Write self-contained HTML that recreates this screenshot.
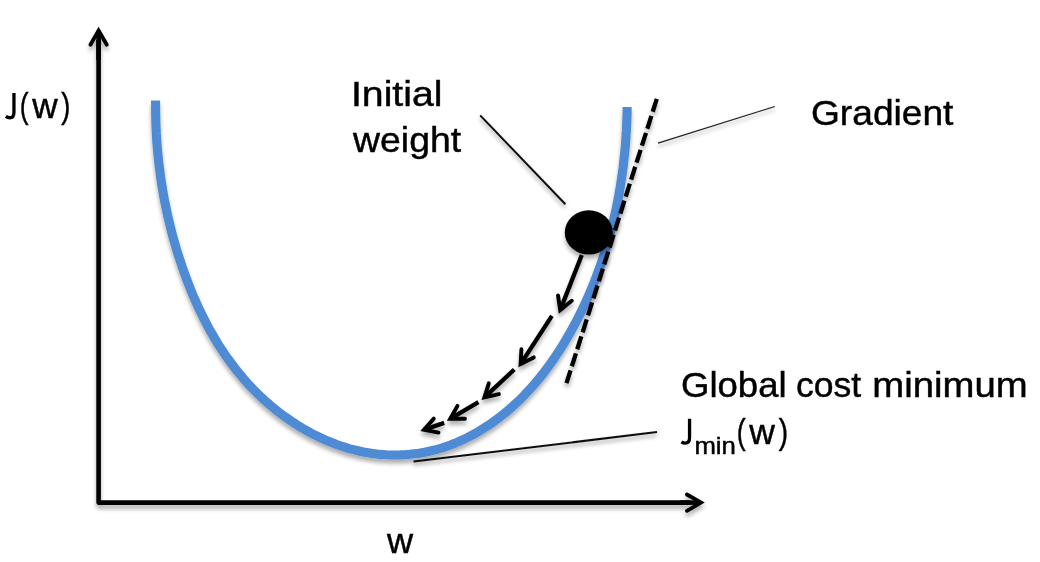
<!DOCTYPE html>
<html><head><meta charset="utf-8"><title>Gradient descent</title>
<style>
html,body{margin:0;padding:0;background:#fff;}
body{width:1040px;height:562px;overflow:hidden;font-family:"Liberation Sans",sans-serif;}
svg{display:block;}
</style></head><body>
<svg width="1040" height="562" viewBox="0 0 1040 562">
<defs>
<filter id="sh" x="-20%" y="-20%" width="140%" height="140%">
<feGaussianBlur in="SourceAlpha" stdDeviation="2.2" result="b"/>
<feOffset in="b" dx="0" dy="3.5" result="o"/>
<feComponentTransfer in="o" result="s"><feFuncA type="linear" slope="0.32"/></feComponentTransfer>
<feMerge><feMergeNode in="s"/><feMergeNode in="SourceGraphic"/></feMerge>
</filter>
<filter id="sh2" x="-20%" y="-20%" width="140%" height="140%" filterUnits="userSpaceOnUse">
<feGaussianBlur in="SourceAlpha" stdDeviation="2.0" result="b"/>
<feOffset in="b" dx="0" dy="3" result="o"/>
<feComponentTransfer in="o" result="s"><feFuncA type="linear" slope="0.4"/></feComponentTransfer>
<feMerge><feMergeNode in="s"/><feMergeNode in="SourceGraphic"/></feMerge>
</filter>
<filter id="soft" x="0" y="0" width="1040" height="562" filterUnits="userSpaceOnUse"><feGaussianBlur stdDeviation="0.55"/></filter>
</defs>
<rect width="1040" height="562" fill="#fff"/>
<g filter="url(#soft)">
<g filter="url(#sh)">
<polyline points="98.6,40 98.6,502.6 690,502.6" fill="none" stroke="#000" stroke-width="4.6" stroke-linejoin="round"/>
<line x1="98.6" y1="60.0" x2="98.6" y2="30.6" stroke="#000" stroke-width="4.60"/><polyline points="90.4,44.7 98.6,30.6 106.8,44.7" fill="none" stroke="#000" stroke-width="3.80" stroke-linecap="round" stroke-linejoin="miter" stroke-miterlimit="10"/>
<line x1="680.0" y1="502.6" x2="701.0" y2="502.6" stroke="#000" stroke-width="4.60"/><polyline points="686.9,494.5 701.0,502.6 686.9,510.8" fill="none" stroke="#000" stroke-width="3.80" stroke-linecap="round" stroke-linejoin="miter" stroke-miterlimit="10"/>
</g>
<path d="M155.6,100.6 L155.6,105.3 L155.6,110.0 L155.7,114.7 L155.8,119.4 L155.9,124.1 L156.1,128.8 L156.3,133.5 L156.6,138.1 L156.9,142.8 L157.3,147.5 L157.7,152.1 L158.2,156.8 L158.6,161.4 L159.2,166.1 L159.8,170.7 L160.4,175.3 L161.0,180.0 L161.8,184.6 L162.5,189.2 L163.3,193.8 L164.1,198.4 L165.0,203.0 L166.0,207.5 L166.9,212.1 L167.9,216.7 L169.0,221.2 L170.1,225.8 L171.2,230.3 L172.4,234.8 L173.6,239.3 L174.9,243.8 L176.2,248.3 L177.6,252.8 L179.0,257.3 L180.5,261.7 L181.9,266.2 L183.5,270.6 L185.1,275.0 L186.7,279.4 L188.4,283.8 L190.1,288.2 L191.9,292.6 L193.7,296.9 L195.6,301.2 L197.5,305.5 L199.5,309.7 L201.5,313.9 L203.6,318.1 L205.7,322.3 L207.9,326.5 L210.1,330.6 L212.5,334.6 L214.8,338.7 L217.2,342.7 L219.7,346.6 L222.3,350.5 L224.9,354.4 L227.5,358.2 L230.3,362.0 L233.1,365.8 L235.9,369.5 L238.9,373.1 L241.9,376.7 L244.9,380.3 L248.0,383.8 L251.2,387.2 L254.5,390.6 L257.8,393.9 L261.2,397.2 L264.7,400.4 L268.3,403.5 L271.9,406.6 L275.5,409.6 L279.2,412.5 L283.0,415.4 L286.9,418.1 L290.7,420.8 L294.7,423.4 L298.7,426.0 L302.7,428.4 L306.8,430.7 L310.9,433.0 L315.1,435.2 L319.3,437.2 L323.6,439.2 L327.9,441.1 L332.2,442.8 L336.6,444.5 L341.0,446.0 L345.4,447.4 L349.9,448.8 L354.4,449.9 L358.9,451.0 L363.4,452.0 L368.0,452.8 L372.6,453.5 L377.2,454.1 L381.8,454.5 L386.4,454.8 L391.1,455.0 L395.7,455.0 L400.4,454.9 L405.0,454.7 L409.7,454.3 L414.3,453.8 L418.9,453.2 L423.5,452.4 L428.1,451.5 L432.7,450.4 L437.2,449.3 L441.7,448.0 L446.1,446.5 L450.5,445.0 L454.8,443.3 L459.1,441.4 L463.4,439.5 L467.6,437.5 L471.7,435.3 L475.9,433.1 L479.9,430.7 L483.9,428.2 L487.8,425.7 L491.7,423.0 L495.5,420.3 L499.3,417.5 L503.0,414.5 L506.7,411.6 L510.2,408.5 L513.7,405.4 L517.2,402.2 L520.6,398.9 L523.9,395.6 L527.1,392.2 L530.3,388.7 L533.4,385.2 L536.5,381.7 L539.4,378.1 L542.4,374.4 L545.2,370.7 L548.0,367.0 L550.8,363.2 L553.5,359.3 L556.1,355.5 L558.7,351.6 L561.2,347.6 L563.7,343.6 L566.1,339.6 L568.4,335.6 L570.8,331.5 L573.0,327.4 L575.3,323.3 L577.4,319.2 L579.5,315.0 L581.6,310.8 L583.6,306.6 L585.6,302.4 L587.5,298.1 L589.4,293.8 L591.2,289.5 L593.0,285.2 L594.7,280.9 L596.4,276.5 L598.0,272.1 L599.6,267.7 L601.2,263.3 L602.7,258.8 L604.1,254.4 L605.5,249.9 L606.9,245.4 L608.2,240.9 L609.4,236.4 L610.7,231.9 L611.8,227.3 L613.0,222.8 L614.0,218.2 L615.1,213.7 L616.1,209.1 L617.0,204.5 L617.9,199.9 L618.8,195.3 L619.6,190.6 L620.4,186.0 L621.1,181.4 L621.8,176.7 L622.5,172.1 L623.1,167.5 L623.6,162.8 L624.1,158.1 L624.6,153.5 L625.1,148.8 L625.5,144.2 L625.8,139.5 L626.1,134.8 L626.4,130.2 L626.6,125.5 L626.8,120.9 L627.0,116.2 L627.1,111.6 L627.1,106.9" fill="none" stroke="#4f8ad4" stroke-width="9.1" stroke-linecap="butt" stroke-linejoin="round" filter="url(#sh)"/>
<line x1="656.8" y1="98.9" x2="566.4" y2="383.4" stroke="#000" stroke-width="4.3" stroke-dasharray="13.5 4.3" filter="url(#sh)"/>
<line x1="480.2" y1="115.4" x2="565.4" y2="204.3" stroke="#111" stroke-width="2" filter="url(#sh2)"/>
<line x1="658" y1="143.2" x2="774.8" y2="106.5" stroke="#222" stroke-width="1.3" filter="url(#sh2)"/>
<line x1="413.5" y1="461.6" x2="657" y2="432.1" stroke="#111" stroke-width="2" filter="url(#sh2)"/>
<g filter="url(#sh)">
<line x1="581.8" y1="255.0" x2="560.2" y2="310.1" stroke="#000" stroke-width="4.30"/><polyline points="571.8,300.8 560.2,310.1 558.0,295.4" fill="none" stroke="#000" stroke-width="3.90" stroke-linecap="round" stroke-linejoin="miter" stroke-miterlimit="10"/>
<line x1="551.9" y1="315.8" x2="520.6" y2="364.1" stroke="#000" stroke-width="4.30"/><polyline points="533.8,357.4 520.6,364.1 521.4,349.3" fill="none" stroke="#000" stroke-width="3.90" stroke-linecap="round" stroke-linejoin="miter" stroke-miterlimit="10"/>
<line x1="514.3" y1="369.5" x2="484.4" y2="397.4" stroke="#000" stroke-width="4.30"/><polyline points="498.9,394.1 484.4,397.4 488.8,383.3" fill="none" stroke="#000" stroke-width="3.90" stroke-linecap="round" stroke-linejoin="miter" stroke-miterlimit="10"/>
<line x1="478.4" y1="402.2" x2="450.2" y2="418.8" stroke="#000" stroke-width="4.30"/><polyline points="465.0,418.7 450.2,418.8 457.5,405.9" fill="none" stroke="#000" stroke-width="3.90" stroke-linecap="round" stroke-linejoin="miter" stroke-miterlimit="10"/>
<line x1="444.2" y1="422.9" x2="424.0" y2="429.7" stroke="#000" stroke-width="4.30"/><polyline points="438.5,432.6 424.0,429.7 433.8,418.6" fill="none" stroke="#000" stroke-width="3.90" stroke-linecap="round" stroke-linejoin="miter" stroke-miterlimit="10"/>
</g>
<ellipse cx="588.8" cy="232.4" rx="24.0" ry="22.2" fill="#000" filter="url(#sh)"/>
<g font-family="'Liberation Sans', sans-serif" fill="#000" stroke="#000" stroke-width="0.45">
<text transform="translate(19.77,118.20) scale(0.7412,1)" font-size="35.5">(</text>
<text transform="translate(32.15,118.20) scale(0.9915,1)" font-size="35.5">w</text>
<text transform="translate(61.20,118.20) scale(0.7712,1)" font-size="35.5">)</text>
<text transform="translate(350.93,106.30) scale(1.1060,1)" font-size="35.5">Initial</text>
<text transform="translate(353.08,152.30) scale(1.0533,1)" font-size="35.5">weight</text>
<text transform="translate(810.96,125.20) scale(1.0467,1)" font-size="35.5">Gradient</text>
<text transform="translate(680.99,396.90) scale(1.0293,1)" font-size="35.5">Global</text>
<text transform="translate(795.89,396.90) scale(1.0028,1)" font-size="35.5">cost</text>
<text transform="translate(872.31,396.90) scale(1.0792,1)" font-size="35.5">minimum</text>
<text transform="translate(694.39,453.80) scale(1.1185,1)" font-size="23.0">min</text>
<text transform="translate(736.65,443.70) scale(0.7512,1)" font-size="35.5">(</text>
<text transform="translate(749.35,443.70) scale(0.9991,1)" font-size="35.5">w</text>
<text transform="translate(778.80,443.70) scale(0.7912,1)" font-size="35.5">)</text>
<text transform="translate(386.96,553.00) scale(1.0178,1)" font-size="35.5">w</text>
</g>
<path d="M13.95,93.00 L13.95,112.15 C13.95,116.25 12.25,117.75 9.85,117.75 C8.25,117.75 6.95,117.25 5.85,116.45" fill="none" stroke="#000" stroke-width="3.3"/>
<path d="M689.55,418.70 L689.55,437.55 C689.55,441.65 687.85,443.15 685.45,443.15 C683.85,443.15 682.55,442.65 681.45,441.85" fill="none" stroke="#000" stroke-width="3.3"/>
</g>
</svg>
</body></html>
